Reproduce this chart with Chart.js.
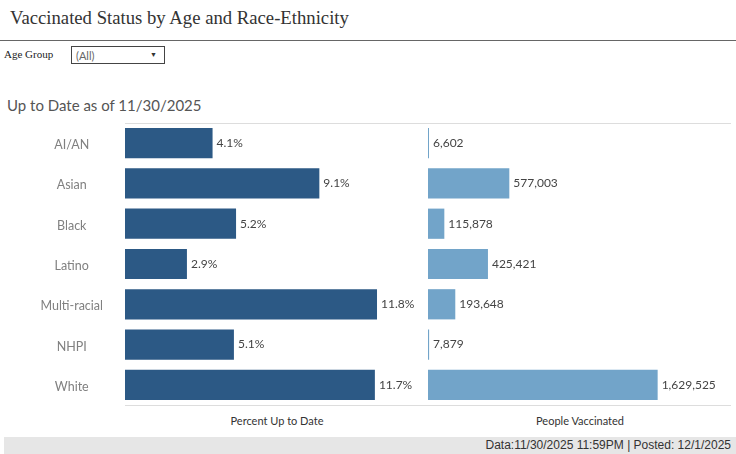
<!DOCTYPE html>
<html>
<head>
<meta charset="utf-8">
<script src="https://cdn.jsdelivr.net/npm/chart.js@4"></script>
<style>
  body { margin: 0; width: 736px; height: 454px; background: #fff; position: relative; overflow: hidden; font-family: Lato, sans-serif; }
  .title { position: absolute; left: 10px; top: 7px; font: 18.7px "Liberation Serif", serif; color: #333; }
  .rule { position: absolute; left: 0; top: 40px; width: 736px; height: 0; border-top: 1.5px solid #666; }
  .agelbl { position: absolute; left: 4px; top: 48px; font: 11px "Liberation Serif", serif; color: #222; }
  .dropdown { position: absolute; left: 71px; top: 46px; border: 1px solid #444; box-sizing: border-box; width: 94px; height: 18px; font: 11px Lato, sans-serif; color: #666; }
  .dropdown span { position: absolute; left: 4px; top: 2px; }
  .dropdown i { position: absolute; right: 7px; top: 3px; font-style: normal; font-size: 7px; color: #333; }
  .subtitle { position: absolute; left: 7px; top: 96px; font: 15px Lato, sans-serif; color: #555; }
  .line { position: absolute; left: 125px; width: 606px; border-top: 1px solid #ddd; }
  .axtitle { position: absolute; top: 414px; font: 11px Lato, sans-serif; color: #333; transform: translateX(-50%); white-space: nowrap; }
  .footer { position: absolute; left: 4px; top: 437px; width: 732px; height: 17px; background: #e6e6e6; }
  .footer span { position: absolute; right: 5px; top: 1px; font: 12px "Liberation Sans", sans-serif; color: #333; }
  canvas { position: absolute; }
</style>
</head>
<body>
<div class="title">Vaccinated Status by Age and Race-Ethnicity</div>
<div class="rule"></div>
<div class="agelbl">Age Group</div>
<div class="dropdown"><span>(All)</span><i>&#9660;</i></div>
<div class="subtitle">Up to Date as of 11/30/2025</div>
<div class="line" style="top:123px"></div>
<div class="line" style="top:405px"></div>
<canvas id="pctChart" width="424" height="282" style="left:0;top:123px"></canvas>
<canvas id="peopleChart" width="303" height="282" style="left:428px;top:123px"></canvas>
<div class="axtitle" style="left:277px">Percent Up to Date</div>
<div class="axtitle" style="left:580px">People Vaccinated</div>
<div class="footer"><span>Data:11/30/2025 11:59PM | Posted: 12/1/2025</span></div>

<script>
var groups = ["AI/AN", "Asian", "Black", "Latino", "Multi-racial", "NHPI", "White"];
var percentUpToDate = [4.1, 9.1, 5.2, 2.9, 11.8, 5.1, 11.7];
var peopleVaccinated = [6602, 577003, 115878, 425421, 193648, 7879, 1629525];

// writes the value just past the end of each bar
var barLabels = {
    id: "barLabels",
    afterDatasetsDraw: function(chart, args, opts) {
        var ctx = chart.ctx;
        var meta = chart.getDatasetMeta(0);
        ctx.save();
        ctx.font = "12px Lato, sans-serif";
        ctx.fillStyle = "#444";
        ctx.textBaseline = "middle";
        meta.data.forEach(function(bar, i) {
            var v = chart.data.datasets[0].data[i];
            ctx.fillText(opts.format(v), bar.x + 4, bar.y);
        });
        ctx.restore();
    }
};

var pctChart = new Chart(document.getElementById("pctChart").getContext("2d"), {
    type: "bar",
    data: {
        labels: groups,
        datasets: [{
            data: percentUpToDate,
            backgroundColor: "#2c5985",
            categoryPercentage: 0.75,
            barPercentage: 1
        }]
    },
    options: {
        indexAxis: "y",
        responsive: false,
        animation: false,
        layout: { padding: 0 },
        plugins: {
            legend: { display: false },
            tooltip: { enabled: false },
            barLabels: { format: function(v) { return v.toFixed(1) + "%"; } }
        },
        scales: {
            x: { display: false, min: 0, max: 14 },
            y: {
                grid: { display: false },
                border: { display: false },
                ticks: {
                    color: "#808080",
                    font: { family: "Lato", size: 12.5 },
                    crossAlign: "center",
                    padding: 14,
                    labelOffset: 2
                },
                afterFit: function(scale) {
                    scale.width = 125;
                    scale.paddingTop = 0;
                    scale.paddingBottom = 0;
                }
            }
        }
    },
    plugins: [barLabels]
});

var peopleChart = new Chart(document.getElementById("peopleChart").getContext("2d"), {
    type: "bar",
    data: {
        labels: groups,
        datasets: [{
            data: peopleVaccinated,
            backgroundColor: "#72a4c9",
            categoryPercentage: 0.75,
            barPercentage: 1,
            minBarLength: 1
        }]
    },
    options: {
        indexAxis: "y",
        responsive: false,
        animation: false,
        layout: { padding: 0 },
        plugins: {
            legend: { display: false },
            tooltip: { enabled: false },
            barLabels: { format: function(v) { return v.toLocaleString("en-US"); } }
        },
        scales: {
            x: { display: false, min: 0, max: 2150000 },
            y: { display: false }
        }
    },
    plugins: [barLabels]
});
</script>
</body>
</html>
